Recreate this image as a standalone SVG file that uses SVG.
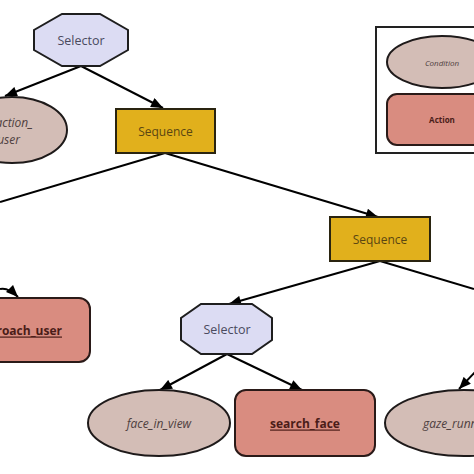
<svg xmlns="http://www.w3.org/2000/svg" width="474" height="474" viewBox="0 0 474 474">
<defs>
<marker id="ah" viewBox="0 0 12 10" refX="12" refY="5" markerWidth="13" markerHeight="10" markerUnits="userSpaceOnUse" orient="auto">
<path d="M0,0 L12,5 L0,10 Z" fill="#000"/>
</marker>
</defs>
<style>
.sel{fill:#dcdcf3;stroke:#1e1e1e;stroke-width:2}
.seq{fill:#e1b01c;stroke:#2a2410;stroke-width:2}
.cond{fill:#d3bdb6;stroke:#1e1a1a;stroke-width:2}
.act{fill:#d98c80;stroke:#2a1a18;stroke-width:2}
.t{font-family:"Open Sans","Noto Sans",sans-serif;font-size:12px;dominant-baseline:central}
.ts{fill:#4a4a5e;text-anchor:middle;font-size:12.5px}
.tq{fill:#5a4612;text-anchor:middle}
.tc{fill:#4e4040;font-style:italic}
.ta{fill:#4a1c18;font-weight:bold;text-decoration:underline}
.lg{font-size:8px}
.e{stroke:#000;stroke-width:2;fill:none;marker-end:url(#ah)}
.l{stroke:#000;stroke-width:2;fill:none}
</style>
<rect width="474" height="474" fill="#fff"/>
<g id="edges">
<line class="e" x1="81" y1="66" x2="5" y2="96"/>
<line class="e" x1="81" y1="66" x2="163" y2="108"/>
<line class="l" x1="165" y1="153" x2="0" y2="202"/>
<line class="e" x1="165" y1="153" x2="378" y2="217"/>
<line class="e" x1="380" y1="261" x2="229" y2="304"/>
<line class="l" x1="380" y1="261" x2="474" y2="289"/>
<line class="e" x1="227" y1="354" x2="160" y2="390"/>
<line class="e" x1="227" y1="354" x2="302" y2="390"/>
<line class="e" x1="476" y1="371" x2="459" y2="389"/>
<path class="e" d="M0,289 Q8,287 18,297"/>
</g>
<g id="selector1">
<polygon class="sel" points="62,14 100,14 128,30 128,50 100,66 62,66 34,50 34,30"/>
<text class="t ts" x="81" y="40">Selector</text>
</g>
<g id="interaction_user">
<ellipse class="cond" cx="12" cy="130" rx="55" ry="33"/>
<text class="t tc" x="33" y="122" text-anchor="end">action_</text>
<text class="t tc" x="20" y="139" text-anchor="end">user</text>
</g>
<g id="sequence1">
<rect class="seq" x="116" y="109" width="99" height="44"/>
<text class="t tq" x="165.5" y="131">Sequence</text>
</g>
<g id="sequence2">
<rect class="seq" x="330" y="217" width="100" height="44"/>
<text class="t tq" x="380" y="239">Sequence</text>
</g>
<g id="approach_user">
<rect class="act" x="-30" y="298" width="120" height="64" rx="11"/>
<text class="t ta" x="62" y="330" text-anchor="end">roach_user</text>
</g>
<g id="selector2">
<polygon class="sel" points="201,304 252,304 272,318 272,340 252,354 201,354 181,340 181,318"/>
<text class="t ts" x="227" y="329">Selector</text>
</g>
<g id="face_in_view">
<ellipse class="cond" cx="159" cy="423" rx="71" ry="33"/>
<text class="t tc" x="159" y="423" text-anchor="middle">face_in_view</text>
</g>
<g id="search_face">
<rect class="act" x="235" y="390" width="140" height="66" rx="11"/>
<text class="t ta" x="305" y="423" text-anchor="middle">search_face</text>
</g>
<g id="gaze_running">
<ellipse class="cond" cx="464" cy="423" rx="79" ry="33"/>
<text class="t tc" x="423" y="423">gaze_running</text>
</g>
<g id="legend">
<rect x="376" y="27" width="110" height="126" fill="#fff" stroke="#222" stroke-width="2"/>
<ellipse class="cond" cx="442" cy="62" rx="55" ry="26"/>
<text class="t tc lg" x="442" y="62" text-anchor="middle">Condition</text>
<rect class="act" x="387" y="94" width="100" height="51" rx="10"/>
<text class="t ta lg" x="442" y="119" text-anchor="middle" style="text-decoration:none">Action</text>
</g>
</svg>
